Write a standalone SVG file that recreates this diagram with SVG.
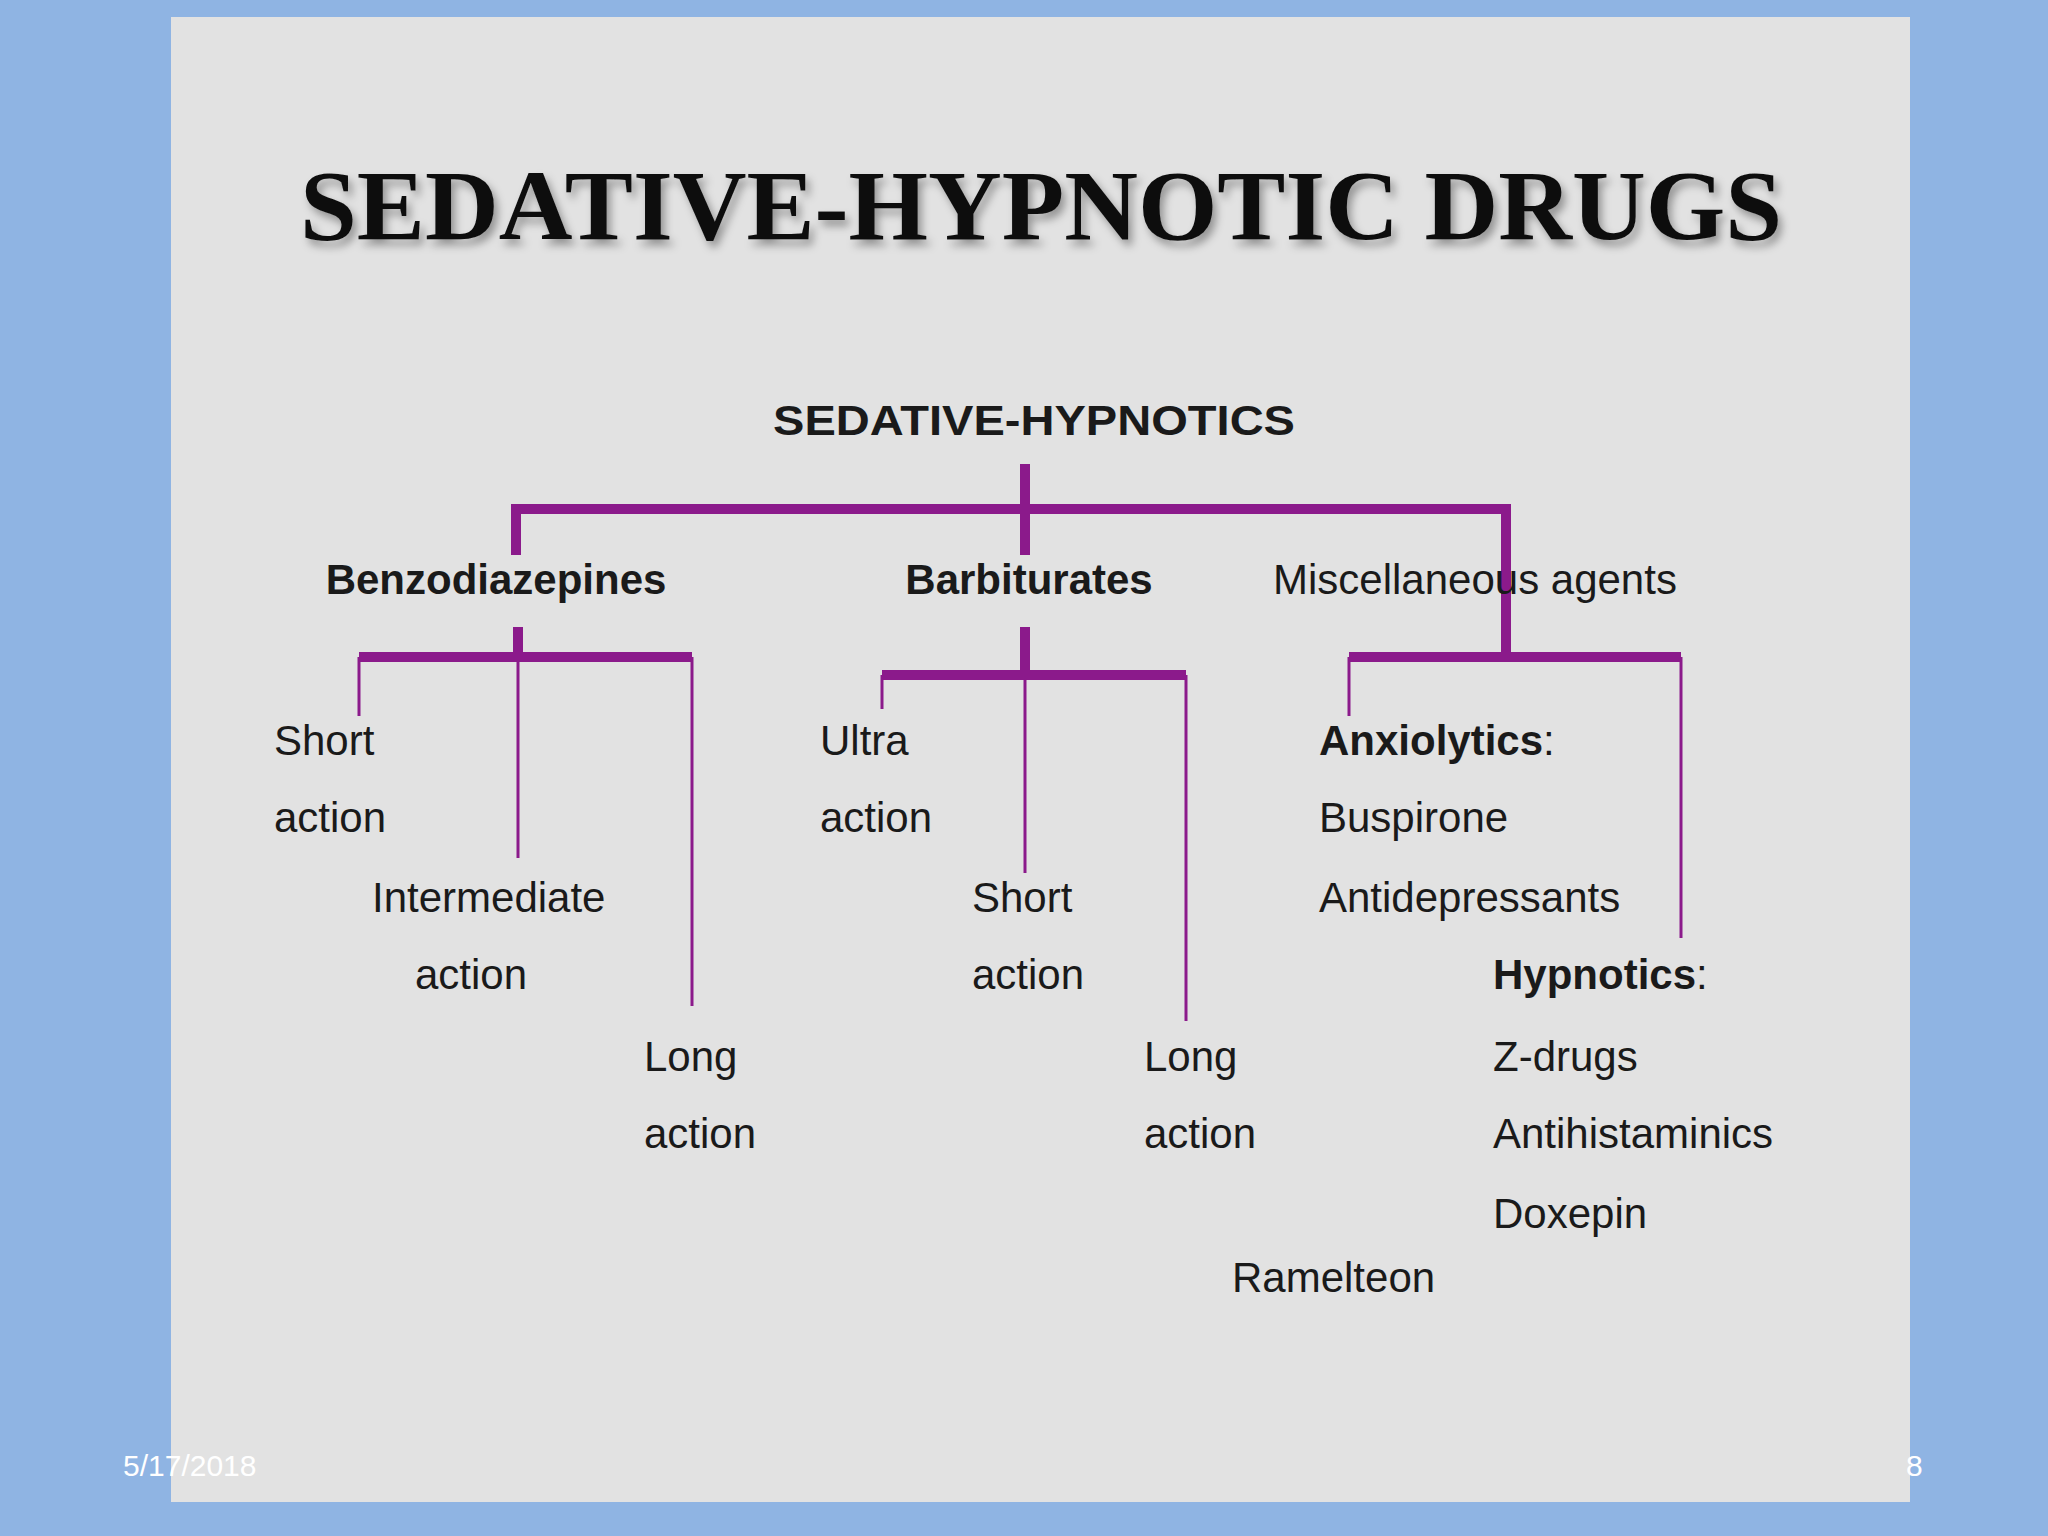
<svg xmlns="http://www.w3.org/2000/svg" width="2048" height="1536" viewBox="0 0 2048 1536">
<defs>
<style>
.t{font-family:"Liberation Sans","Noto Sans",sans-serif;font-size:42px;fill:#1a1a1a}
.b{font-weight:bold}
.thick{stroke:#8b1a8b;stroke-width:10;fill:none}
.thin{stroke:#8b1a8b;stroke-width:3;fill:none}
.f{font-family:"Liberation Sans",sans-serif;font-size:30px;fill:#ffffff}
</style>
<filter id="sh" x="-5%" y="-20%" width="110%" height="150%"><feDropShadow dx="4" dy="6" stdDeviation="4" flood-color="#000" flood-opacity="0.35"/></filter>
</defs>
<rect width="2048" height="1536" fill="#8fb4e3"/>
<rect x="171" y="17" width="1739" height="1485" fill="#e2e2e2"/>
<text x="1041" y="239" text-anchor="middle" font-family="Liberation Serif,serif" font-weight="bold" font-size="100" textLength="1482" lengthAdjust="spacingAndGlyphs" fill="#111" filter="url(#sh)">SEDATIVE-HYPNOTIC DRUGS</text>
<g id="connectors">
<path class="thick" d="M516 555V509H1506V649M1025 464V555M518 627V660M359 657H692M1025 627V675M882 675H1186M1506 649V657M1349 657H1681"/>
<path class="thin" d="M359 657V716M518 657V858M692 657V1006M882 675V709M1025 675V873M1186 675V1021M1349 657V716M1681 657V938"/>
</g>
<g id="root"><text class="t b" x="1034" y="435" text-anchor="middle" textLength="522" lengthAdjust="spacingAndGlyphs">SEDATIVE-HYPNOTICS</text></g>
<g id="benzo"><text class="t b" x="496" y="594" text-anchor="middle">Benzodiazepines</text></g>
<g id="barb"><text class="t b" x="1029" y="594" text-anchor="middle">Barbiturates</text></g>
<g id="misc"><text class="t" x="1273" y="594">Miscellaneous agents</text></g>
<g id="b-short"><text class="t" x="274" y="755">Short</text><text class="t" x="274" y="832">action</text></g>
<g id="b-inter"><text class="t" x="372" y="912">Intermediate</text><text class="t" x="415" y="989">action</text></g>
<g id="b-long"><text class="t" x="644" y="1071">Long</text><text class="t" x="644" y="1148">action</text></g>
<g id="ba-ultra"><text class="t" x="820" y="755">Ultra</text><text class="t" x="820" y="832">action</text></g>
<g id="ba-short"><text class="t" x="972" y="912">Short</text><text class="t" x="972" y="989">action</text></g>
<g id="ba-long"><text class="t" x="1144" y="1071">Long</text><text class="t" x="1144" y="1148">action</text></g>
<g id="anx"><text class="t" x="1319" y="755"><tspan class="b">Anxiolytics</tspan>:</text><text class="t" x="1319" y="832">Buspirone</text><text class="t" x="1319" y="912">Antidepressants</text></g>
<g id="hyp"><text class="t" x="1493" y="989"><tspan class="b">Hypnotics</tspan>:</text><text class="t" x="1493" y="1071">Z-drugs</text><text class="t" x="1493" y="1148">Antihistaminics</text><text class="t" x="1493" y="1228">Doxepin</text></g>
<g id="ramelteon"><text class="t" x="1232" y="1292">Ramelteon</text></g>
<text class="f" x="123" y="1476">5/17/2018</text>
<text class="f" x="1906" y="1476">8</text>
</svg>
